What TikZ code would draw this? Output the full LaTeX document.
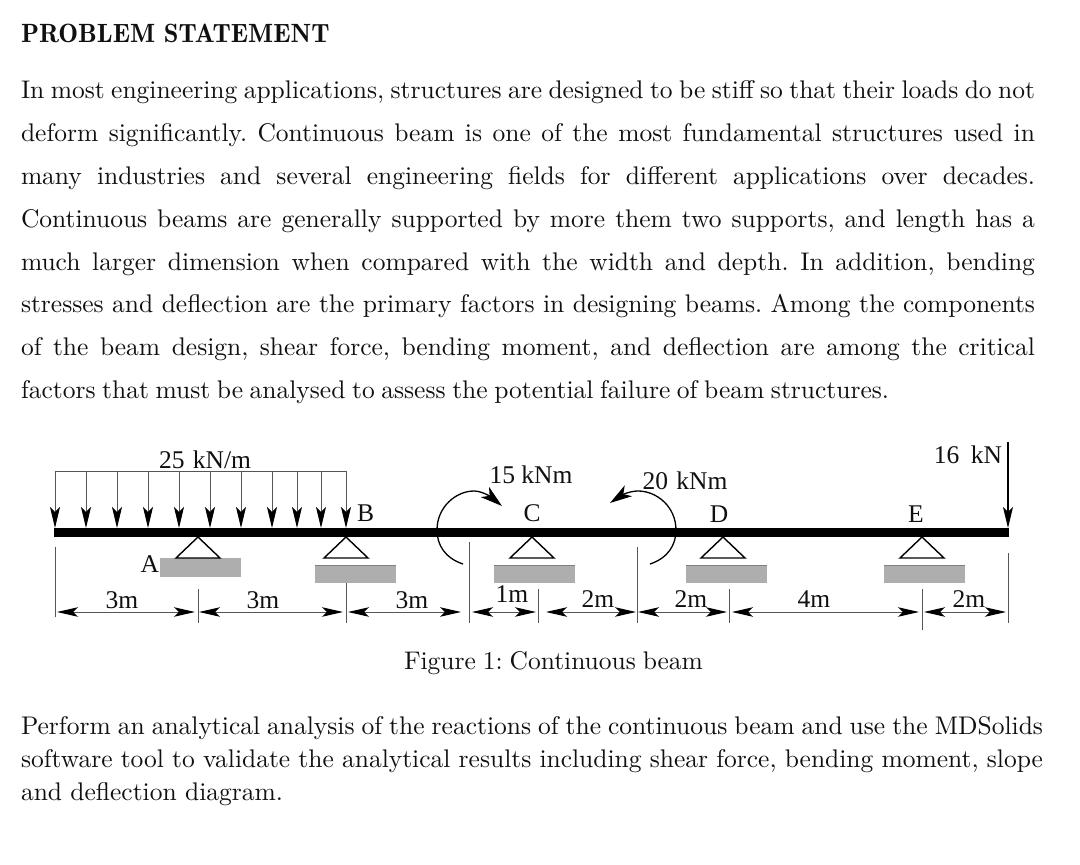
\documentclass[tikz,border=0pt]{standalone}
\usepackage{fontspec}
\usetikzlibrary{arrows.meta}
\newfontfamily\figfont{Liberation Serif}
\newfontfamily\bodyfam[Ligatures=TeX]{lmroman10-regular.otf}
\newfontfamily\titlefam[Ligatures=TeX]{lmromandemi10-regular.otf}
\definecolor{ink}{HTML}{101010}
\definecolor{thin}{HTML}{555555}
\definecolor{ground}{HTML}{AEAEAE}
\definecolor{groundtop}{HTML}{808080}
\newcommand{\bodyfont}{\bodyfam\fontsize{25.5}{25.5}\selectfont\frenchspacing\spaceskip=.25em plus .3em minus .15em\relax}
\newcommand{\fulline}[1]{\makebox[1014pt][s]{#1}}
\newcommand{\wideline}[1]{\makebox[1022pt][s]{#1}}
\tikzset{
  x=1pt,y=-1pt,
  bodytext/.style={anchor=base west,inner sep=0pt,outer sep=0pt,text=ink,font=\bodyfont},
  figlabel/.style={anchor=base,inner sep=0pt,outer sep=0pt,text=ink,font=\figfont\fontsize{25.5}{25.5}\selectfont},
  beam/.style={fill=black,draw=none},
  gnd/.style={fill=ground,draw=none},
  gndtop/.style={draw=groundtop,line width=0.8pt},
  support/.style={draw=black,line width=1.4pt,line join=miter},
  loadarrow/.style={draw=thin,line width=1pt,-{Stealth[length=21pt,width=10pt,inset=5pt,color=black]}},
  dimline/.style={draw=thin,line width=1pt,{Stealth[length=21pt,width=9.5pt,inset=5pt,color=black]}-{Stealth[length=21pt,width=9.5pt,inset=5pt,color=black]}},
  tick/.style={draw=thin,line width=1pt},
  moment/.style={draw=black,line width=1.3pt,-{Stealth[length=22pt,width=13pt,inset=6pt,color=black]}},
  force/.style={draw=black,line width=1.3pt,-{Stealth[length=21pt,width=10pt,inset=5pt,color=black]}},
}
\begin{document}
\begin{tikzpicture}
\useasboundingbox (0,0) rectangle (1080,865);
\fill[white] (0,0) rectangle (1080,865);
% text
\node[bodytext,font=\titlefam\fontsize{26.4}{26.4}\selectfont] (title) at (21,42) {PROBLEM STATEMENT};
\node[bodytext] (l1) at (21,98) {\fulline{In most engineering applications, structures are designed to be stiff so that their loads do not}};
\node[bodytext] (l2) at (21,141) {\fulline{deform significantly. Continuous beam is one of the most fundamental structures used in}};
\node[bodytext] (l3) at (21,184) {\fulline{many industries and several engineering fields for different applications over decades.}};
\node[bodytext] (l4) at (21,227) {\fulline{Continuous beams are generally supported by more them two supports, and length has a}};
\node[bodytext] (l5) at (21,270) {\fulline{much larger dimension when compared with the width and depth. In addition, bending}};
\node[bodytext] (l6) at (21,312) {\fulline{stresses and deflection are the primary factors in designing beams. Among the components}};
\node[bodytext] (l7) at (21,355) {\fulline{of the beam design, shear force, bending moment, and deflection are among the critical}};
\node[bodytext] (l8) at (21,398) {\makebox[868pt][s]{factors that must be analysed to assess the potential failure of beam structures.}};
\node[bodytext] (cap) at (404,669) {\makebox[299pt][s]{Figure 1: Continuous beam}};
\node[bodytext] (p1) at (21,734) {\wideline{Perform an analytical analysis of the reactions of the continuous beam and use the MDSolids}};
\node[bodytext] (p2) at (21,767) {\wideline{software tool to validate the analytical results including shear force, bending moment, slope}};
\node[bodytext] (p3) at (21,800) {\makebox[262pt][s]{and deflection diagram.}};
% distributed load
\draw[tick] (55,471) -- (346,471);
\foreach \xa in {55,86,117,148,179,210,241,272,297,321,346}
  \draw[loadarrow] (\xa,471) -- (\xa,528);
% grounds
\fill[gnd] (160,558) rectangle (241,577);
\foreach \xa/\xb in {315/396,494/575,686/767,884/965}{
  \fill[gnd] (\xa,565) rectangle (\xb,583);
  \draw[gndtop] (\xa,565) -- (\xb,565);
}
% supports
\foreach \xs/\nm in {198/A,346/B,532/C,723/D,922/E}
  \draw[support] (\xs,537) -- (\xs-22,558) -- (\xs+22,558) -- cycle;
% beam
\fill[beam] (54,528) rectangle (1009,537);
% moments
\draw[moment] (463,564) .. controls (445,558) and (437,545) .. (437,530)
  .. controls (437,507) and (456,491) .. (474,491) .. controls (482,491) and (491,497) .. (502,506);
\draw[moment] (650,564) .. controls (668,558) and (676,545) .. (676,530)
  .. controls (676,507) and (657,491) .. (638,491) .. controls (630,491) and (622,495) .. (610,503);
% force
\draw[force] (1008,442) -- (1008,528);
% dim ticks
\foreach \xt/\ya/\yb in {55/547/617,198/589/623,346/583/623,469/542/623,538/589/623,637/547/623,729/589/623,922/589/630,1008/553/623}
  \draw[tick] (\xt,\ya) -- (\xt,\yb);
% dim lines
\foreach \xa/\xb in {57/195,199/343,348/461,472/536,546/636,638/727,732/919,924/1006}
  \draw[dimline] (\xa,612) -- (\xb,612);
% labels
\node[figlabel] (q) at (205,468) {25\hspace{2pt} kN/m};
\node[figlabel,anchor=base east] (la) at (159,572) {A};
\node[figlabel,anchor=base west] (lb) at (357,521) {B};
\node[figlabel] (lc) at (532,521) {C};
\node[figlabel] (ld) at (719,522) {D};
\node[figlabel] (le) at (916,522) {E};
\node[figlabel] (m1) at (531,483) {15 kNm};
\node[figlabel] (m2) at (685,489) {20\hspace{2pt} kNm};
\node[figlabel] (f) at (968,463) {16\hspace{5pt} kN};
\node[figlabel] (d1) at (122,608) {3m};
\node[figlabel] (d2) at (263,608) {3m};
\node[figlabel] (d3) at (412,608) {3m};
\node[figlabel] (d4) at (512,602) {1m};
\node[figlabel] (d5) at (598,607) {2m};
\node[figlabel] (d6) at (691,607) {2m};
\node[figlabel] (d7) at (814,607) {4m};
\node[figlabel] (d8) at (969,607) {2m};
\end{tikzpicture}
\end{document}
